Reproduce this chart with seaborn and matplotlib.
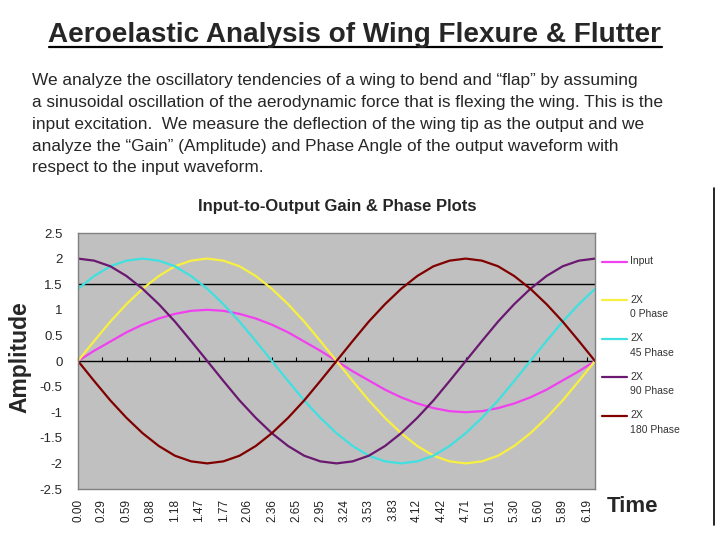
import matplotlib
matplotlib.use("Agg")
import matplotlib.pyplot as plt
from matplotlib.lines import Line2D
from matplotlib.legend_handler import HandlerLine2D
import seaborn as sns
import pandas as pd

time = [0.000, 0.196, 0.393, 0.589, 0.785, 0.982, 1.178, 1.374, 1.571, 1.767, 1.963,
        2.160, 2.356, 2.553, 2.749, 2.945, 3.142, 3.338, 3.534, 3.731, 3.927, 4.123,
        4.320, 4.516, 4.712, 4.909, 5.105, 5.301, 5.498, 5.694, 5.890, 6.087, 6.283]

input_wave = [0.00, 0.20, 0.38, 0.56, 0.71, 0.83, 0.92, 0.98, 1.00, 0.98, 0.92,
              0.83, 0.71, 0.56, 0.38, 0.20, 0.00, -0.20, -0.38, -0.56, -0.71, -0.83,
              -0.92, -0.98, -1.00, -0.98, -0.92, -0.83, -0.71, -0.56, -0.38, -0.20, 0.00]
phase_0 = [0.00, 0.39, 0.77, 1.11, 1.41, 1.66, 1.85, 1.96, 2.00, 1.96, 1.85,
           1.66, 1.41, 1.11, 0.77, 0.39, 0.00, -0.39, -0.77, -1.11, -1.41, -1.66,
           -1.85, -1.96, -2.00, -1.96, -1.85, -1.66, -1.41, -1.11, -0.77, -0.39, 0.00]
phase_45 = [1.41, 1.66, 1.85, 1.96, 2.00, 1.96, 1.85, 1.66, 1.41, 1.11, 0.77,
            0.39, 0.00, -0.39, -0.77, -1.11, -1.41, -1.66, -1.85, -1.96, -2.00, -1.96,
            -1.85, -1.66, -1.41, -1.11, -0.77, -0.39, 0.00, 0.39, 0.77, 1.11, 1.41]
phase_90 = [2.00, 1.96, 1.85, 1.66, 1.41, 1.11, 0.77, 0.39, 0.00, -0.39, -0.77,
            -1.11, -1.41, -1.66, -1.85, -1.96, -2.00, -1.96, -1.85, -1.66, -1.41, -1.11,
            -0.77, -0.39, 0.00, 0.39, 0.77, 1.11, 1.41, 1.66, 1.85, 1.96, 2.00]
phase_180 = [0.00, -0.39, -0.77, -1.11, -1.41, -1.66, -1.85, -1.96, -2.00, -1.96, -1.85,
             -1.66, -1.41, -1.11, -0.77, -0.39, 0.00, 0.39, 0.77, 1.11, 1.41, 1.66,
             1.85, 1.96, 2.00, 1.96, 1.85, 1.66, 1.41, 1.11, 0.77, 0.39, 0.00]

series_names = ["Input\n ", "2X\n0 Phase", "2X\n45 Phase", "2X\n90 Phase", "2X\n180 Phase"]
series_colors = ["#F040F0", "#F8F040", "#40E0E0", "#6A1870", "#800000"]

x_tick_labels = ["0.00", "0.29", "0.59", "0.88", "1.18", "1.47", "1.77", "2.06",
                 "2.36", "2.65", "2.95", "3.24", "3.53", "3.83", "4.12", "4.42",
                 "4.71", "5.01", "5.30", "5.60", "5.89", "6.19"]
y_ticks = [2.5, 2, 1.5, 1, 0.5, 0, -0.5, -1, -1.5, -2, -2.5]
y_tick_labels = ["2.5", "2", "1.5", "1", "0.5", "0", "-0.5", "-1", "-1.5", "-2", "-2.5"]

paragraph = ("We analyze the oscillatory tendencies of a wing to bend and \u201cflap\u201d by assuming\n"
             "a sinusoidal oscillation of the aerodynamic force that is flexing the wing. This is the\n"
             "input excitation.  We measure the deflection of the wing tip as the output and we\n"
             "analyze the \u201cGain\u201d (Amplitude) and Phase Angle of the output waveform with\n"
             "respect to the input waveform.")

# long-form table for seaborn
all_values = [input_wave, phase_0, phase_45, phase_90, phase_180]
rows = []
for name, vals in zip(series_names, all_values):
    for t, v in zip(time, vals):
        rows.append({"Time": t, "Amplitude": v, "Series": name})
df = pd.DataFrame(rows)


class TopLineHandler(HandlerLine2D):
    # Excel puts the legend key next to the first line of a wrapped label
    def create_artists(self, legend, orig_handle, xdescent, ydescent, width, height,
                       fontsize, trans):
        arts = super().create_artists(legend, orig_handle, xdescent, ydescent, width,
                                      height, fontsize, trans)
        for a in arts:
            a.set_ydata([y + 5.2 for y in a.get_ydata()])
        return arts


sns.set_style("white")
plt.rcParams["font.family"] = ["Liberation Sans", "DejaVu Sans"]

fig = plt.figure(figsize=(7.2, 5.4), dpi=100)
ax = fig.add_axes([78 / 720, 1 - 489 / 540, 517 / 720, 256 / 540])
ax.set_facecolor("#C0C0C0")

sns.lineplot(data=df, x="Time", y="Amplitude", hue="Series", hue_order=series_names,
             palette=dict(zip(series_names, series_colors)), linewidth=1.6, ax=ax)

ax.set_xlim(0, 6.283)
ax.set_ylim(-2.5, 2.5)
ax.axhline(1.5, color="black", linewidth=1.0, zorder=0.5)
ax.axhline(0, color="black", linewidth=1.0, zorder=0.5)

ax.set_yticks(y_ticks)
ax.set_yticklabels(y_tick_labels, fontsize=9.5)
ax.set_xticks([float(s) for s in x_tick_labels])
ax.set_xticklabels(x_tick_labels, rotation=90, fontsize=8.5, color="#222222")
ax.tick_params(axis="both", length=0)
ax.tick_params(axis="y", pad=11)
ax.tick_params(axis="x", pad=7)
ax.set_xlabel("")
ax.set_ylabel("")
for sp in ax.spines.values():
    sp.set_color("#808080")
    sp.set_linewidth(1.0)

# tick marks along the zero line
secax = ax.secondary_xaxis(0.5)
secax.set_xticks([float(s) for s in x_tick_labels])
secax.set_xticklabels([])
secax.tick_params(axis="x", direction="out", length=3, color="black", width=0.8)
secax.spines["bottom"].set_visible(False)
secax.spines["top"].set_visible(False)

sns.move_legend(ax, "upper left", bbox_to_anchor=(602 / 720, 1 - 256 / 540),
                bbox_transform=fig.transFigure, frameon=False, title=None,
                fontsize=7.5, handlelength=2.4, handletextpad=0.3, labelspacing=1.32,
                borderaxespad=0, borderpad=0,
                handler_map={Line2D: TopLineHandler()})
for txt in ax.get_legend().get_texts():
    txt.set_color("#333333")
    txt.set_linespacing(1.6)

fig.text(337 / 720, 1 - 207 / 540, "Input-to-Output Gain & Phase Plots", fontsize=12,
         fontweight="bold", ha="center", va="center")
fig.text(20 / 720, 1 - 357 / 540, "Amplitude", rotation=90, fontsize=16.5,
         fontweight="bold", ha="center", va="center")
fig.text(607 / 720, 1 - 506 / 540, "Time", fontsize=16, fontweight="bold",
         ha="left", va="center")

# slide heading and body text
title = fig.text(355 / 720, 1 - 42 / 540, "Aeroelastic Analysis of Wing Flexure & Flutter",
                 fontsize=20.1, fontweight="bold", ha="center", va="baseline")
fig.text(32 / 720, 1 - 73 / 540, paragraph, fontsize=12.4, ha="left", va="top",
         linespacing=1.57)

fig.add_artist(Line2D([714 / 720, 714 / 720], [1 - 188 / 540, 1 - 525 / 540],
                      transform=fig.transFigure, color="black", linewidth=1.2))

fig.canvas.draw()
bb = title.get_window_extent()
fig.add_artist(Line2D([bb.x0 / 720, bb.x1 / 720], [1 - 46.5 / 540, 1 - 46.5 / 540],
                      transform=fig.transFigure, color="black", linewidth=1.6))

fig.savefig("out.png", dpi=100)
